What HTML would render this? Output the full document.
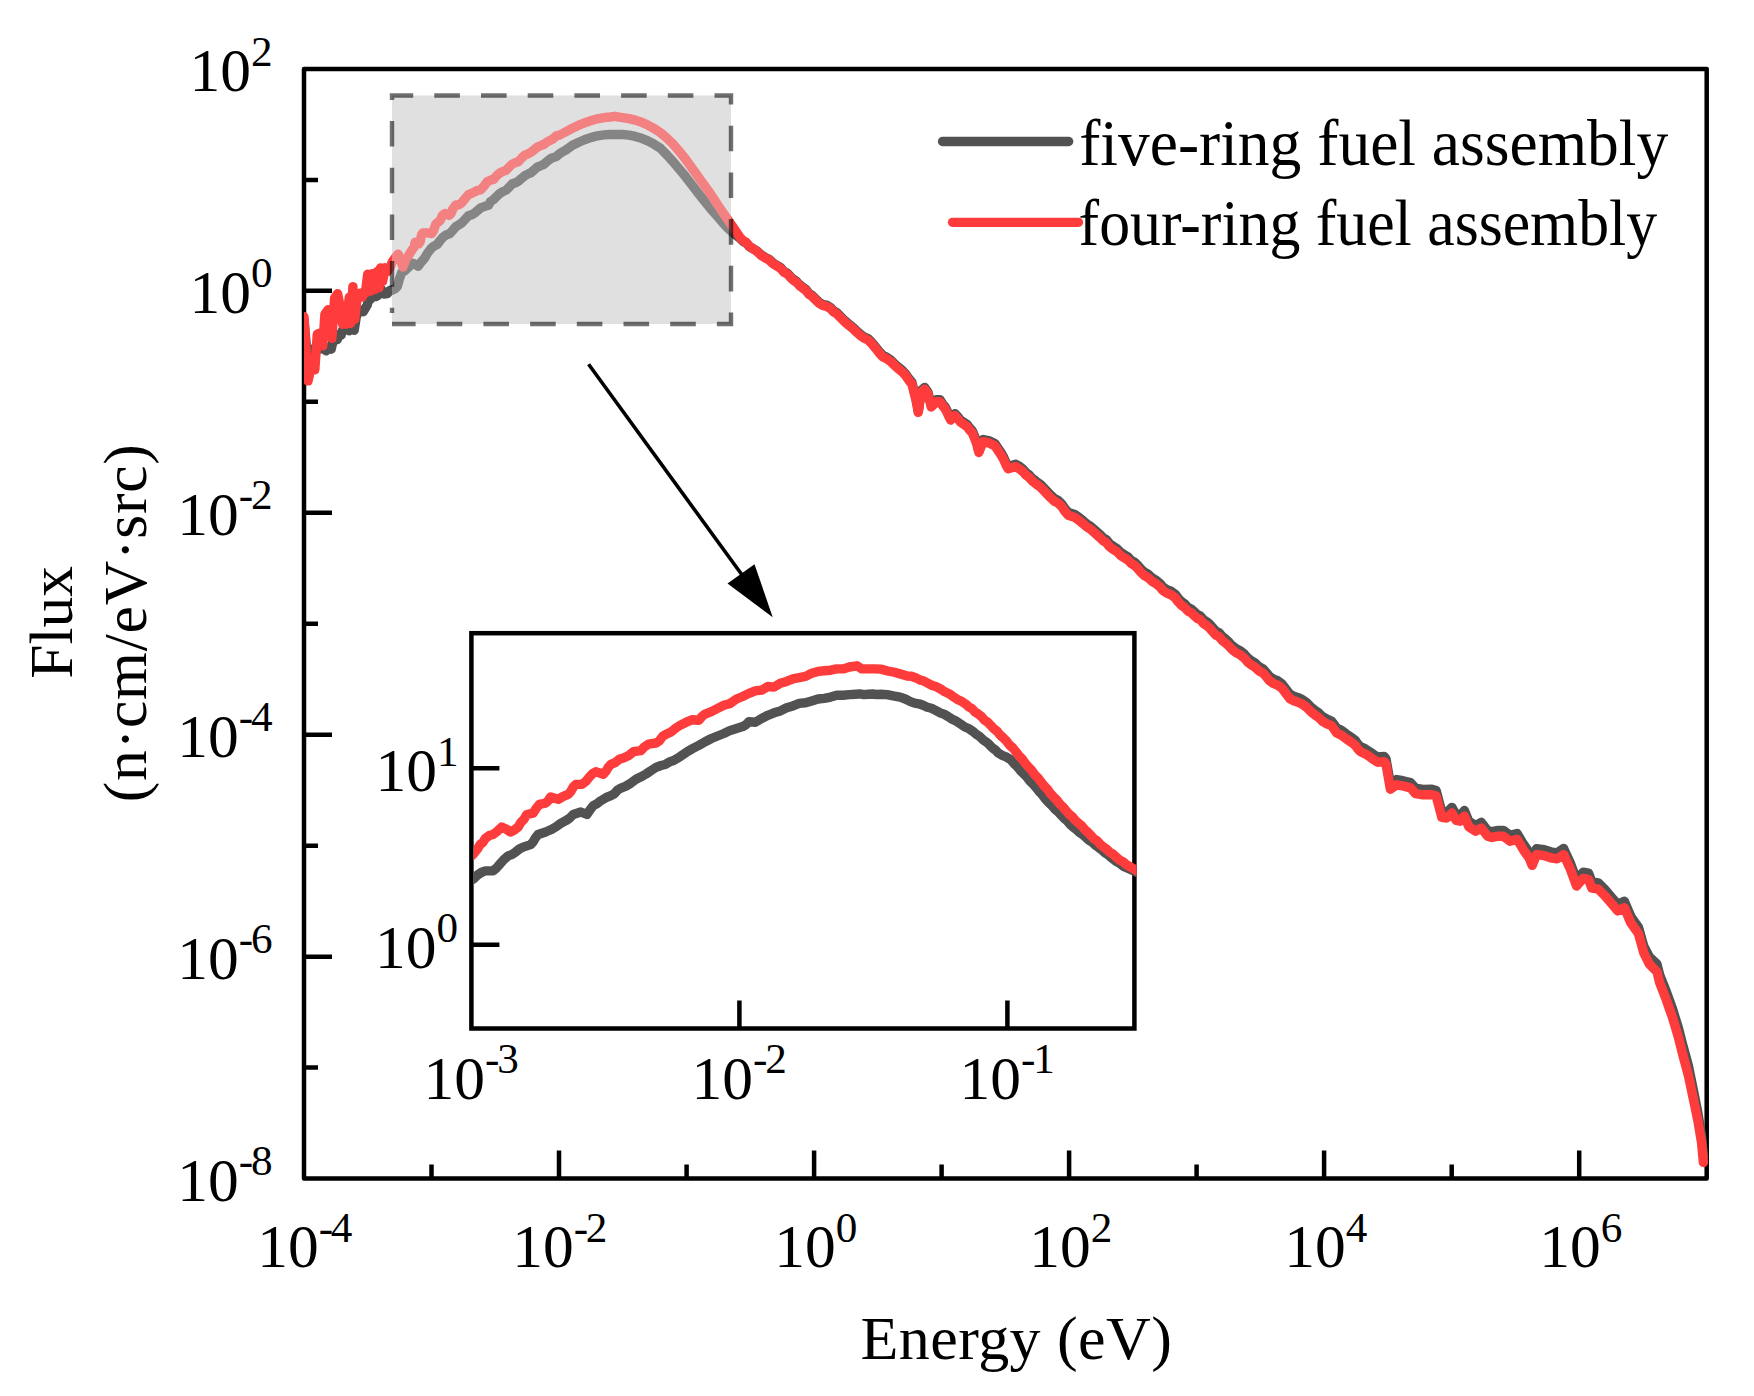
<!DOCTYPE html>
<html lang="en"><head><meta charset="utf-8"><title>Neutron flux spectrum</title>
<style>html,body{margin:0;padding:0;background:#fff}svg{display:block}</style></head>
<body>
<svg width="1754" height="1396" viewBox="0 0 1754 1396" font-family="'Liberation Serif', serif" fill="#000">
<rect width="1754" height="1396" fill="#fff"/>
<defs>
<clipPath id="cm"><rect x="304.0" y="68.9" width="1405.0" height="1109.6999999999998"/></clipPath>
<clipPath id="ci"><rect x="473.59999999999997" y="633.2" width="663.1000000000001" height="395.29999999999995"/></clipPath>
<clipPath id="cin"><rect x="392" y="95.5" width="339" height="228.5"/></clipPath>
<clipPath id="cout"><path clip-rule="evenodd" d="M0,0 H1754 V1396 H0 Z M392,95.5 H731 V324 H392 Z"/></clipPath>
</defs>
<g stroke="#000" stroke-width="4.5" fill="none">
<rect x="304.0" y="68.9" width="1402.7" height="1109.7" stroke-linejoin="round"/>
<path d="M431.5,1178.6 V1164.6 M559.0,1178.6 V1150.6 M686.6,1178.6 V1164.6 M814.1,1178.6 V1150.6 M941.6,1178.6 V1164.6 M1069.1,1178.6 V1150.6 M1196.6,1178.6 V1164.6 M1324.1,1178.6 V1150.6 M1451.7,1178.6 V1164.6 M1579.2,1178.6 V1150.6 M304.0,179.9 H318.0 M304.0,290.8 H332.0 M304.0,401.8 H318.0 M304.0,512.8 H332.0 M304.0,623.7 H318.0 M304.0,734.7 H332.0 M304.0,845.7 H318.0 M304.0,956.7 H332.0 M304.0,1067.6 H318.0"/>
</g>
<rect x="392.0" y="95.5" width="339.0" height="228.5" fill="#e0e0e0"/>
<g clip-path="url(#cm)" fill="none" stroke-width="9.4" stroke-linejoin="round" stroke-linecap="round">
<g clip-path="url(#cout)"><path d="M304.0,320.2 L309.0,375.3 L311.5,350.3 L317.1,346.3 L321.1,348.8 L323.6,346.3 L326.1,350.8 L329.1,347.3 L331.1,349.3 L333.1,341.2 L335.1,338.2 L337.1,339.7 L339.6,334.2 L341.1,335.2 L342.6,330.2 L346.1,328.7 L349.1,330.7 L352.1,329.2 L354.2,330.2 L356.2,317.2 L358.2,311.2 L360.7,310.2 L363.2,311.7 L367.2,305.1 L368.2,301.1 L370.7,299.1 L373.2,296.1 L375.7,296.6 L378.2,295.1 L381.2,289.1 L384.2,294.1 L387.2,293.6 L390.2,290.1 L392.2,290.3 L395.4,288.4 L397.3,286.5 L399.4,279.0 L401.6,272.7 L405.4,270.2 L408.6,267.1 L412.3,263.3 L415.1,264.3 L418.2,266.2 L421.4,261.8 L424.5,258.3 L427.6,253.0 L430.8,248.8 L433.9,246.1 L437.1,244.5 L440.2,240.5 L443.3,236.9 L446.5,234.8 L449.6,233.8 L452.7,230.4 L455.9,226.6 L459.0,224.8 L462.1,222.6 L465.3,219.1 L468.4,215.8 L471.6,214.7 L474.7,213.1 L477.8,210.3 L481.0,207.6 L484.1,206.6 L488.5,205.3 L490.4,201.6 L493.5,199.6 L496.6,196.5 L499.8,193.4 L502.9,191.5 L506.1,190.2 L509.2,187.1 L512.3,183.8 L515.5,182.7 L518.6,181.1 L521.7,178.3 L524.9,175.7 L528.0,174.0 L531.2,172.6 L534.3,169.8 L537.4,167.0 L540.6,165.8 L543.7,164.4 L546.8,161.7 L550.0,159.1 L553.1,157.6 L556.2,156.6 L559.4,153.9 L562.5,151.8 L565.7,150.1 L572.5,145.2 L578.8,142.2 L585.1,139.5 L591.4,137.4 L597.6,135.8 L603.9,134.9 L610.2,134.5 L616.5,134.4 L622.7,134.5 L629.0,135.2 L635.3,136.4 L641.6,138.3 L647.8,140.8 L654.1,144.2 L660.4,148.3 L666.6,154.6 L672.9,161.5 L679.2,169.0 L685.5,176.6 L691.7,184.7 L698.0,192.9 L704.3,200.8 L710.6,208.6 L716.8,215.8 L723.1,223.0 L727.5,227.7 L731.9,231.8 L740.0,238.4 L743.1,241.4 L746.2,242.9 L749.4,246.6 L752.5,248.4 L756.7,250.8 L760.9,254.6 L765.1,257.3 L769.3,259.5 L773.4,263.2 L777.6,265.7 L780.8,267.8 L783.9,271.5 L787.1,273.0 L790.2,276.3 L793.3,279.3 L796.5,281.3 L799.6,284.8 L802.7,287.2 L805.9,289.4 L809.0,293.5 L812.1,295.5 L815.3,298.6 L819.0,302.2 L822.8,304.5 L826.5,305.2 L830.3,307.3 L833.7,310.9 L837.0,312.8 L840.4,316.3 L844.8,320.7 L849.2,324.4 L853.0,327.4 L856.7,331.0 L860.5,334.3 L864.2,337.0 L868.0,338.6 L871.8,342.4 L875.5,346.8 L879.2,351.5 L883.0,355.5 L886.8,357.3 L890.6,359.9 L894.4,363.7 L898.1,367.0 L901.9,370.0 L905.6,373.9 L908.8,378.6 L911.9,382.3 L916.1,398.8 L916.8,403.0 L917.5,406.3 L918.2,410.7 L918.9,407.0 L919.5,402.1 L920.2,398.6 L920.8,393.8 L921.5,390.1 L924.7,387.5 L928.0,392.2 L929.1,397.0 L930.1,400.5 L931.2,405.2 L936.6,399.7 L939.9,399.7 L942.6,403.8 L945.3,407.2 L947.1,410.6 L948.9,414.6 L950.7,418.0 L955.1,413.7 L957.8,416.6 L960.5,420.1 L967.0,424.4 L969.7,428.0 L972.4,430.9 L974.5,436.1 L976.7,441.7 L977.8,446.4 L978.9,450.3 L981.0,444.6 L983.2,439.5 L988.6,440.5 L995.1,443.7 L998.4,448.8 L1001.6,453.4 L1003.8,457.5 L1006.0,462.6 L1008.1,466.4 L1015.7,464.2 L1019.5,466.4 L1023.3,469.5 L1026.2,472.8 L1029.1,474.9 L1032.0,478.1 L1036.3,481.5 L1040.6,484.6 L1050.8,495.2 L1054.4,498.5 L1058.1,500.4 L1061.7,503.8 L1064.9,508.6 L1068.2,512.4 L1074.7,514.5 L1079.0,517.4 L1083.3,520.9 L1086.9,524.1 L1090.5,526.2 L1094.2,529.5 L1100.0,534.5 L1103.1,537.7 L1106.2,539.5 L1109.4,543.5 L1112.5,545.8 L1116.7,548.4 L1120.9,552.5 L1125.1,555.2 L1128.2,557.1 L1131.3,560.4 L1134.5,562.1 L1137.6,565.1 L1140.8,568.8 L1143.9,571.9 L1148.1,574.2 L1152.3,578.0 L1156.5,580.6 L1159.6,583.1 L1162.7,586.8 L1166.9,589.6 L1171.1,591.2 L1175.3,594.3 L1178.4,598.4 L1181.6,601.7 L1184.7,603.8 L1187.8,607.3 L1191.0,608.9 L1194.1,611.6 L1197.2,614.4 L1200.3,616.0 L1203.5,619.6 L1206.6,621.6 L1209.8,624.4 L1212.9,627.9 L1216.1,631.4 L1219.2,632.8 L1222.3,636.5 L1225.5,639.0 L1228.6,641.7 L1231.7,645.3 L1235.9,648.5 L1240.1,650.6 L1244.3,654.0 L1247.4,657.6 L1250.6,660.2 L1254.8,662.8 L1258.9,666.6 L1263.1,668.9 L1266.2,672.3 L1269.4,676.4 L1273.6,679.2 L1277.7,680.7 L1281.9,683.8 L1290.0,694.3 L1293.8,696.2 L1297.5,697.4 L1301.9,699.4 L1306.3,702.4 L1310.7,706.9 L1315.1,710.5 L1318.9,713.0 L1322.6,716.7 L1327.0,719.2 L1331.4,721.0 L1333.9,724.1 L1336.4,727.9 L1341.4,730.3 L1346.5,734.1 L1350.2,736.6 L1355.2,740.3 L1357.8,743.9 L1360.3,746.5 L1365.3,748.8 L1370.3,752.1 L1374.1,754.9 L1377.8,757.0 L1384.1,756.4 L1386.0,758.9 L1390.4,783.9 L1396.6,779.5 L1402.9,780.7 L1410.5,782.6 L1415.5,788.2 L1423.0,789.4 L1431.8,789.3 L1436.2,790.6 L1441.8,811.9 L1446.8,812.5 L1451.9,807.4 L1456.2,814.9 L1460.0,815.6 L1464.4,810.5 L1468.8,821.2 L1475.7,825.5 L1481.3,822.3 L1487.6,830.5 L1492.0,831.7 L1498.3,830.4 L1503.3,830.4 L1510.1,835.4 L1517.1,833.5 L1523.6,844.3 L1529.0,851.9 L1532.2,859.4 L1536.6,848.6 L1544.1,849.6 L1550.6,851.8 L1557.1,852.8 L1563.6,848.4 L1570.1,862.5 L1576.6,879.8 L1583.1,872.2 L1588.6,873.2 L1591.8,881.9 L1598.3,882.9 L1604.8,889.4 L1611.3,897.0 L1617.8,904.5 L1624.3,901.2 L1630.8,916.4 L1638.4,927.1 L1643.8,946.2 L1649.4,957.0 L1656.9,964.0 L1659.7,974.9 L1666.2,991.3 L1672.7,1009.4 L1678.3,1027.7 L1683.0,1046.0 L1688.5,1066.1 L1693.2,1089.2 L1697.9,1113.0 L1701.6,1136.4 L1703.4,1156.3" stroke="#525252"/>
<path d="M304.0,316.7 L308.0,380.9 L312.0,362.3 L314.8,369.8 L317.3,334.2 L321.3,332.7 L322.8,345.8 L324.9,314.2 L328.1,309.7 L330.3,316.2 L331.9,338.2 L334.6,298.1 L337.6,293.6 L340.1,306.2 L342.6,324.2 L344.4,315.2 L346.1,324.2 L349.3,297.1 L350.5,323.2 L352.9,286.6 L354.7,319.2 L357.4,295.1 L360.2,293.1 L362.2,297.1 L364.2,291.6 L365.4,293.1 L367.7,274.1 L370.0,291.1 L372.2,273.6 L374.7,289.6 L377.2,271.6 L379.0,287.6 L380.4,268.0 L382.7,281.1 L385.0,267.8 L387.2,271.6 L390.2,267.5 L392.2,262.0 L395.4,257.6 L398.1,254.1 L401.0,261.4 L402.9,267.1 L405.4,260.2 L408.2,256.0 L411.1,251.4 L414.2,247.0 L415.1,242.3 L418.9,243.6 L420.2,241.6 L421.5,234.8 L422.9,232.9 L427.6,232.9 L431.4,233.6 L433.6,230.6 L435.8,224.1 L440.2,220.4 L442.7,215.0 L445.2,213.5 L449.0,215.4 L450.9,213.9 L452.7,209.1 L455.9,205.0 L459.0,204.7 L462.1,202.4 L465.3,198.4 L468.4,194.6 L471.6,193.4 L477.8,190.3 L481.0,189.6 L484.1,185.9 L487.2,181.8 L490.4,180.2 L493.5,179.5 L496.6,175.8 L499.8,172.9 L502.9,171.4 L506.1,170.3 L509.2,167.1 L512.3,164.0 L515.5,162.7 L518.6,161.5 L521.7,158.0 L524.9,155.1 L528.0,153.9 L531.2,152.2 L534.3,149.6 L537.4,147.1 L540.6,145.7 L543.7,144.5 L546.8,142.1 L553.1,138.8 L556.2,135.9 L559.4,135.1 L565.7,131.9 L572.5,128.2 L578.8,125.2 L585.1,122.6 L591.4,120.5 L597.6,118.8 L603.9,117.7 L610.2,117.0 L615.2,116.3 L619.0,117.1 L622.7,117.6 L629.0,118.6 L635.3,120.1 L641.6,122.2 L647.8,125.1 L654.1,128.5 L660.4,132.6 L666.6,137.9 L672.9,143.9 L679.2,151.2 L685.5,159.0 L691.7,167.8 L698.0,176.6 L704.3,185.3 L710.6,194.1 L716.8,203.5 L723.1,212.9 L727.5,219.2 L731.9,225.5 L740.0,237.4 L743.1,240.6 L746.2,242.4 L749.4,246.3 L752.5,248.4 L756.7,251.1 L760.9,255.2 L765.1,257.9 L769.3,260.2 L773.4,263.9 L777.6,266.4 L780.8,268.6 L783.9,272.3 L787.1,273.8 L790.2,277.1 L793.3,280.2 L796.5,282.2 L799.6,285.7 L802.7,288.1 L805.9,290.4 L809.0,294.4 L812.1,296.4 L815.3,299.6 L819.0,303.2 L822.8,305.5 L826.5,306.3 L830.3,308.4 L833.7,312.0 L837.0,313.9 L840.4,317.5 L844.8,321.9 L849.2,325.6 L853.0,328.7 L856.7,332.3 L860.5,335.6 L864.2,338.3 L868.0,340.0 L871.8,343.8 L875.5,348.2 L879.2,353.0 L883.0,357.0 L886.8,358.8 L890.6,361.4 L894.4,365.3 L898.1,368.6 L901.9,371.6 L905.6,375.5 L908.8,380.2 L911.9,384.0 L916.1,400.5 L916.8,404.7 L917.5,408.0 L918.2,412.4 L918.9,408.7 L919.5,403.8 L920.2,400.3 L920.8,395.5 L921.5,391.8 L924.7,389.2 L928.0,394.0 L929.1,398.8 L930.1,402.3 L931.2,407.0 L936.6,401.6 L939.9,401.6 L942.6,405.7 L945.3,409.2 L947.1,412.5 L948.9,416.6 L950.7,420.0 L955.1,415.7 L957.8,418.6 L960.5,422.2 L967.0,426.5 L969.7,430.1 L972.4,433.0 L974.5,438.2 L976.7,443.8 L977.8,448.6 L978.9,452.5 L981.0,446.8 L983.2,441.7 L988.6,442.8 L995.1,446.0 L998.4,451.1 L1001.6,455.7 L1003.8,459.9 L1006.0,464.9 L1008.1,468.7 L1015.7,466.6 L1019.5,468.9 L1023.3,472.0 L1026.2,475.3 L1029.1,477.4 L1032.0,480.7 L1036.3,484.1 L1040.6,487.2 L1050.8,497.9 L1054.4,501.2 L1058.1,503.1 L1061.7,506.5 L1064.9,511.4 L1068.2,515.2 L1074.7,517.4 L1079.0,520.3 L1083.3,523.9 L1086.9,527.0 L1090.5,529.2 L1094.2,532.5 L1100.0,537.6 L1103.1,540.8 L1106.2,542.6 L1109.4,546.6 L1112.5,548.9 L1116.7,551.5 L1120.9,555.7 L1125.1,558.4 L1128.2,560.3 L1131.3,563.7 L1134.5,565.4 L1137.6,568.4 L1140.8,572.2 L1143.9,575.3 L1148.1,577.6 L1152.3,581.5 L1156.5,584.1 L1159.6,586.6 L1162.7,590.3 L1166.9,593.1 L1171.1,594.8 L1175.3,597.9 L1178.4,602.1 L1181.6,605.4 L1184.7,607.5 L1187.8,611.0 L1191.0,612.6 L1194.1,615.4 L1197.2,618.2 L1200.3,619.8 L1203.5,623.5 L1206.6,625.5 L1209.8,628.3 L1212.9,631.8 L1216.1,635.3 L1219.2,636.7 L1222.3,640.5 L1225.5,643.0 L1228.6,645.7 L1231.7,649.3 L1235.9,652.6 L1240.1,654.8 L1244.3,658.1 L1247.4,661.8 L1250.6,664.4 L1254.8,667.0 L1258.9,670.8 L1263.1,673.2 L1266.2,676.6 L1269.4,680.7 L1273.6,683.6 L1277.7,685.1 L1281.9,688.2 L1290.0,698.8 L1293.8,700.7 L1297.5,702.0 L1301.9,704.0 L1306.3,707.0 L1310.7,711.5 L1315.1,715.1 L1318.9,717.7 L1322.6,721.4 L1327.0,723.9 L1331.4,725.8 L1333.9,728.9 L1336.4,732.7 L1341.4,735.2 L1346.5,739.0 L1350.2,741.5 L1355.2,745.2 L1357.8,748.9 L1360.3,751.5 L1365.3,753.9 L1370.3,757.2 L1374.1,760.0 L1377.8,762.2 L1384.1,761.6 L1386.0,764.1 L1390.4,789.2 L1396.6,784.8 L1402.9,786.0 L1410.5,787.9 L1415.5,793.6 L1423.0,794.8 L1431.8,794.8 L1436.2,796.1 L1441.8,817.4 L1446.8,818.0 L1451.9,813.0 L1456.2,820.5 L1460.0,821.2 L1464.4,816.1 L1468.8,826.8 L1475.7,831.2 L1481.3,828.1 L1487.6,836.2 L1492.0,837.5 L1498.3,836.2 L1503.3,836.2 L1510.1,841.2 L1517.1,839.4 L1523.6,850.2 L1529.0,857.8 L1532.2,865.4 L1536.6,854.6 L1544.1,855.6 L1550.6,857.8 L1557.1,858.9 L1563.6,854.6 L1570.1,868.6 L1576.6,886.0 L1583.1,878.4 L1588.6,879.5 L1591.8,888.1 L1598.3,889.2 L1604.8,895.7 L1611.3,903.3 L1617.8,910.9 L1624.3,907.6 L1630.8,922.8 L1638.4,933.6 L1643.8,953.0 L1649.4,964.2 L1656.9,971.7 L1659.7,982.8 L1666.2,999.6 L1672.7,1018.2 L1678.3,1036.9 L1683.0,1055.5 L1688.5,1076.0 L1693.2,1098.3 L1697.9,1120.7 L1701.6,1143.1 L1703.4,1162.5" stroke="#ff3c3c"/></g>
<g clip-path="url(#cin)"><path d="M304.0,320.2 L309.0,375.3 L311.5,350.3 L317.1,346.3 L321.1,348.8 L323.6,346.3 L326.1,350.8 L329.1,347.3 L331.1,349.3 L333.1,341.2 L335.1,338.2 L337.1,339.7 L339.6,334.2 L341.1,335.2 L342.6,330.2 L346.1,328.7 L349.1,330.7 L352.1,329.2 L354.2,330.2 L356.2,317.2 L358.2,311.2 L360.7,310.2 L363.2,311.7 L367.2,305.1 L368.2,301.1 L370.7,299.1 L373.2,296.1 L375.7,296.6 L378.2,295.1 L381.2,289.1 L384.2,294.1 L387.2,293.6 L390.2,290.1 L392.2,290.3 L395.4,288.4 L397.3,286.5 L399.4,279.0 L401.6,272.7 L405.4,270.2 L408.6,267.1 L412.3,263.3 L415.1,264.3 L418.2,266.2 L421.4,261.8 L424.5,258.3 L427.6,253.0 L430.8,248.8 L433.9,246.1 L437.1,244.5 L440.2,240.5 L443.3,236.9 L446.5,234.8 L449.6,233.8 L452.7,230.4 L455.9,226.6 L459.0,224.8 L462.1,222.6 L465.3,219.1 L468.4,215.8 L471.6,214.7 L474.7,213.1 L477.8,210.3 L481.0,207.6 L484.1,206.6 L488.5,205.3 L490.4,201.6 L493.5,199.6 L496.6,196.5 L499.8,193.4 L502.9,191.5 L506.1,190.2 L509.2,187.1 L512.3,183.8 L515.5,182.7 L518.6,181.1 L521.7,178.3 L524.9,175.7 L528.0,174.0 L531.2,172.6 L534.3,169.8 L537.4,167.0 L540.6,165.8 L543.7,164.4 L546.8,161.7 L550.0,159.1 L553.1,157.6 L556.2,156.6 L559.4,153.9 L562.5,151.8 L565.7,150.1 L572.5,145.2 L578.8,142.2 L585.1,139.5 L591.4,137.4 L597.6,135.8 L603.9,134.9 L610.2,134.5 L616.5,134.4 L622.7,134.5 L629.0,135.2 L635.3,136.4 L641.6,138.3 L647.8,140.8 L654.1,144.2 L660.4,148.3 L666.6,154.6 L672.9,161.5 L679.2,169.0 L685.5,176.6 L691.7,184.7 L698.0,192.9 L704.3,200.8 L710.6,208.6 L716.8,215.8 L723.1,223.0 L727.5,227.7 L731.9,231.8 L740.0,238.4 L743.1,241.4 L746.2,242.9 L749.4,246.6 L752.5,248.4 L756.7,250.8 L760.9,254.6 L765.1,257.3 L769.3,259.5 L773.4,263.2 L777.6,265.7 L780.8,267.8 L783.9,271.5 L787.1,273.0 L790.2,276.3 L793.3,279.3 L796.5,281.3 L799.6,284.8 L802.7,287.2 L805.9,289.4 L809.0,293.5 L812.1,295.5 L815.3,298.6 L819.0,302.2 L822.8,304.5 L826.5,305.2 L830.3,307.3 L833.7,310.9 L837.0,312.8 L840.4,316.3 L844.8,320.7 L849.2,324.4 L853.0,327.4 L856.7,331.0 L860.5,334.3 L864.2,337.0 L868.0,338.6 L871.8,342.4 L875.5,346.8 L879.2,351.5 L883.0,355.5 L886.8,357.3 L890.6,359.9 L894.4,363.7 L898.1,367.0 L901.9,370.0 L905.6,373.9 L908.8,378.6 L911.9,382.3 L916.1,398.8 L916.8,403.0 L917.5,406.3 L918.2,410.7 L918.9,407.0 L919.5,402.1 L920.2,398.6 L920.8,393.8 L921.5,390.1 L924.7,387.5 L928.0,392.2 L929.1,397.0 L930.1,400.5 L931.2,405.2 L936.6,399.7 L939.9,399.7 L942.6,403.8 L945.3,407.2 L947.1,410.6 L948.9,414.6 L950.7,418.0 L955.1,413.7 L957.8,416.6 L960.5,420.1 L967.0,424.4 L969.7,428.0 L972.4,430.9 L974.5,436.1 L976.7,441.7 L977.8,446.4 L978.9,450.3 L981.0,444.6 L983.2,439.5 L988.6,440.5 L995.1,443.7 L998.4,448.8 L1001.6,453.4 L1003.8,457.5 L1006.0,462.6 L1008.1,466.4 L1015.7,464.2 L1019.5,466.4 L1023.3,469.5 L1026.2,472.8 L1029.1,474.9 L1032.0,478.1 L1036.3,481.5 L1040.6,484.6 L1050.8,495.2 L1054.4,498.5 L1058.1,500.4 L1061.7,503.8 L1064.9,508.6 L1068.2,512.4 L1074.7,514.5 L1079.0,517.4 L1083.3,520.9 L1086.9,524.1 L1090.5,526.2 L1094.2,529.5 L1100.0,534.5 L1103.1,537.7 L1106.2,539.5 L1109.4,543.5 L1112.5,545.8 L1116.7,548.4 L1120.9,552.5 L1125.1,555.2 L1128.2,557.1 L1131.3,560.4 L1134.5,562.1 L1137.6,565.1 L1140.8,568.8 L1143.9,571.9 L1148.1,574.2 L1152.3,578.0 L1156.5,580.6 L1159.6,583.1 L1162.7,586.8 L1166.9,589.6 L1171.1,591.2 L1175.3,594.3 L1178.4,598.4 L1181.6,601.7 L1184.7,603.8 L1187.8,607.3 L1191.0,608.9 L1194.1,611.6 L1197.2,614.4 L1200.3,616.0 L1203.5,619.6 L1206.6,621.6 L1209.8,624.4 L1212.9,627.9 L1216.1,631.4 L1219.2,632.8 L1222.3,636.5 L1225.5,639.0 L1228.6,641.7 L1231.7,645.3 L1235.9,648.5 L1240.1,650.6 L1244.3,654.0 L1247.4,657.6 L1250.6,660.2 L1254.8,662.8 L1258.9,666.6 L1263.1,668.9 L1266.2,672.3 L1269.4,676.4 L1273.6,679.2 L1277.7,680.7 L1281.9,683.8 L1290.0,694.3 L1293.8,696.2 L1297.5,697.4 L1301.9,699.4 L1306.3,702.4 L1310.7,706.9 L1315.1,710.5 L1318.9,713.0 L1322.6,716.7 L1327.0,719.2 L1331.4,721.0 L1333.9,724.1 L1336.4,727.9 L1341.4,730.3 L1346.5,734.1 L1350.2,736.6 L1355.2,740.3 L1357.8,743.9 L1360.3,746.5 L1365.3,748.8 L1370.3,752.1 L1374.1,754.9 L1377.8,757.0 L1384.1,756.4 L1386.0,758.9 L1390.4,783.9 L1396.6,779.5 L1402.9,780.7 L1410.5,782.6 L1415.5,788.2 L1423.0,789.4 L1431.8,789.3 L1436.2,790.6 L1441.8,811.9 L1446.8,812.5 L1451.9,807.4 L1456.2,814.9 L1460.0,815.6 L1464.4,810.5 L1468.8,821.2 L1475.7,825.5 L1481.3,822.3 L1487.6,830.5 L1492.0,831.7 L1498.3,830.4 L1503.3,830.4 L1510.1,835.4 L1517.1,833.5 L1523.6,844.3 L1529.0,851.9 L1532.2,859.4 L1536.6,848.6 L1544.1,849.6 L1550.6,851.8 L1557.1,852.8 L1563.6,848.4 L1570.1,862.5 L1576.6,879.8 L1583.1,872.2 L1588.6,873.2 L1591.8,881.9 L1598.3,882.9 L1604.8,889.4 L1611.3,897.0 L1617.8,904.5 L1624.3,901.2 L1630.8,916.4 L1638.4,927.1 L1643.8,946.2 L1649.4,957.0 L1656.9,964.0 L1659.7,974.9 L1666.2,991.3 L1672.7,1009.4 L1678.3,1027.7 L1683.0,1046.0 L1688.5,1066.1 L1693.2,1089.2 L1697.9,1113.0 L1701.6,1136.4 L1703.4,1156.3" stroke="#858585"/>
<path d="M304.0,316.7 L308.0,380.9 L312.0,362.3 L314.8,369.8 L317.3,334.2 L321.3,332.7 L322.8,345.8 L324.9,314.2 L328.1,309.7 L330.3,316.2 L331.9,338.2 L334.6,298.1 L337.6,293.6 L340.1,306.2 L342.6,324.2 L344.4,315.2 L346.1,324.2 L349.3,297.1 L350.5,323.2 L352.9,286.6 L354.7,319.2 L357.4,295.1 L360.2,293.1 L362.2,297.1 L364.2,291.6 L365.4,293.1 L367.7,274.1 L370.0,291.1 L372.2,273.6 L374.7,289.6 L377.2,271.6 L379.0,287.6 L380.4,268.0 L382.7,281.1 L385.0,267.8 L387.2,271.6 L390.2,267.5 L392.2,262.0 L395.4,257.6 L398.1,254.1 L401.0,261.4 L402.9,267.1 L405.4,260.2 L408.2,256.0 L411.1,251.4 L414.2,247.0 L415.1,242.3 L418.9,243.6 L420.2,241.6 L421.5,234.8 L422.9,232.9 L427.6,232.9 L431.4,233.6 L433.6,230.6 L435.8,224.1 L440.2,220.4 L442.7,215.0 L445.2,213.5 L449.0,215.4 L450.9,213.9 L452.7,209.1 L455.9,205.0 L459.0,204.7 L462.1,202.4 L465.3,198.4 L468.4,194.6 L471.6,193.4 L477.8,190.3 L481.0,189.6 L484.1,185.9 L487.2,181.8 L490.4,180.2 L493.5,179.5 L496.6,175.8 L499.8,172.9 L502.9,171.4 L506.1,170.3 L509.2,167.1 L512.3,164.0 L515.5,162.7 L518.6,161.5 L521.7,158.0 L524.9,155.1 L528.0,153.9 L531.2,152.2 L534.3,149.6 L537.4,147.1 L540.6,145.7 L543.7,144.5 L546.8,142.1 L553.1,138.8 L556.2,135.9 L559.4,135.1 L565.7,131.9 L572.5,128.2 L578.8,125.2 L585.1,122.6 L591.4,120.5 L597.6,118.8 L603.9,117.7 L610.2,117.0 L615.2,116.3 L619.0,117.1 L622.7,117.6 L629.0,118.6 L635.3,120.1 L641.6,122.2 L647.8,125.1 L654.1,128.5 L660.4,132.6 L666.6,137.9 L672.9,143.9 L679.2,151.2 L685.5,159.0 L691.7,167.8 L698.0,176.6 L704.3,185.3 L710.6,194.1 L716.8,203.5 L723.1,212.9 L727.5,219.2 L731.9,225.5 L740.0,237.4 L743.1,240.6 L746.2,242.4 L749.4,246.3 L752.5,248.4 L756.7,251.1 L760.9,255.2 L765.1,257.9 L769.3,260.2 L773.4,263.9 L777.6,266.4 L780.8,268.6 L783.9,272.3 L787.1,273.8 L790.2,277.1 L793.3,280.2 L796.5,282.2 L799.6,285.7 L802.7,288.1 L805.9,290.4 L809.0,294.4 L812.1,296.4 L815.3,299.6 L819.0,303.2 L822.8,305.5 L826.5,306.3 L830.3,308.4 L833.7,312.0 L837.0,313.9 L840.4,317.5 L844.8,321.9 L849.2,325.6 L853.0,328.7 L856.7,332.3 L860.5,335.6 L864.2,338.3 L868.0,340.0 L871.8,343.8 L875.5,348.2 L879.2,353.0 L883.0,357.0 L886.8,358.8 L890.6,361.4 L894.4,365.3 L898.1,368.6 L901.9,371.6 L905.6,375.5 L908.8,380.2 L911.9,384.0 L916.1,400.5 L916.8,404.7 L917.5,408.0 L918.2,412.4 L918.9,408.7 L919.5,403.8 L920.2,400.3 L920.8,395.5 L921.5,391.8 L924.7,389.2 L928.0,394.0 L929.1,398.8 L930.1,402.3 L931.2,407.0 L936.6,401.6 L939.9,401.6 L942.6,405.7 L945.3,409.2 L947.1,412.5 L948.9,416.6 L950.7,420.0 L955.1,415.7 L957.8,418.6 L960.5,422.2 L967.0,426.5 L969.7,430.1 L972.4,433.0 L974.5,438.2 L976.7,443.8 L977.8,448.6 L978.9,452.5 L981.0,446.8 L983.2,441.7 L988.6,442.8 L995.1,446.0 L998.4,451.1 L1001.6,455.7 L1003.8,459.9 L1006.0,464.9 L1008.1,468.7 L1015.7,466.6 L1019.5,468.9 L1023.3,472.0 L1026.2,475.3 L1029.1,477.4 L1032.0,480.7 L1036.3,484.1 L1040.6,487.2 L1050.8,497.9 L1054.4,501.2 L1058.1,503.1 L1061.7,506.5 L1064.9,511.4 L1068.2,515.2 L1074.7,517.4 L1079.0,520.3 L1083.3,523.9 L1086.9,527.0 L1090.5,529.2 L1094.2,532.5 L1100.0,537.6 L1103.1,540.8 L1106.2,542.6 L1109.4,546.6 L1112.5,548.9 L1116.7,551.5 L1120.9,555.7 L1125.1,558.4 L1128.2,560.3 L1131.3,563.7 L1134.5,565.4 L1137.6,568.4 L1140.8,572.2 L1143.9,575.3 L1148.1,577.6 L1152.3,581.5 L1156.5,584.1 L1159.6,586.6 L1162.7,590.3 L1166.9,593.1 L1171.1,594.8 L1175.3,597.9 L1178.4,602.1 L1181.6,605.4 L1184.7,607.5 L1187.8,611.0 L1191.0,612.6 L1194.1,615.4 L1197.2,618.2 L1200.3,619.8 L1203.5,623.5 L1206.6,625.5 L1209.8,628.3 L1212.9,631.8 L1216.1,635.3 L1219.2,636.7 L1222.3,640.5 L1225.5,643.0 L1228.6,645.7 L1231.7,649.3 L1235.9,652.6 L1240.1,654.8 L1244.3,658.1 L1247.4,661.8 L1250.6,664.4 L1254.8,667.0 L1258.9,670.8 L1263.1,673.2 L1266.2,676.6 L1269.4,680.7 L1273.6,683.6 L1277.7,685.1 L1281.9,688.2 L1290.0,698.8 L1293.8,700.7 L1297.5,702.0 L1301.9,704.0 L1306.3,707.0 L1310.7,711.5 L1315.1,715.1 L1318.9,717.7 L1322.6,721.4 L1327.0,723.9 L1331.4,725.8 L1333.9,728.9 L1336.4,732.7 L1341.4,735.2 L1346.5,739.0 L1350.2,741.5 L1355.2,745.2 L1357.8,748.9 L1360.3,751.5 L1365.3,753.9 L1370.3,757.2 L1374.1,760.0 L1377.8,762.2 L1384.1,761.6 L1386.0,764.1 L1390.4,789.2 L1396.6,784.8 L1402.9,786.0 L1410.5,787.9 L1415.5,793.6 L1423.0,794.8 L1431.8,794.8 L1436.2,796.1 L1441.8,817.4 L1446.8,818.0 L1451.9,813.0 L1456.2,820.5 L1460.0,821.2 L1464.4,816.1 L1468.8,826.8 L1475.7,831.2 L1481.3,828.1 L1487.6,836.2 L1492.0,837.5 L1498.3,836.2 L1503.3,836.2 L1510.1,841.2 L1517.1,839.4 L1523.6,850.2 L1529.0,857.8 L1532.2,865.4 L1536.6,854.6 L1544.1,855.6 L1550.6,857.8 L1557.1,858.9 L1563.6,854.6 L1570.1,868.6 L1576.6,886.0 L1583.1,878.4 L1588.6,879.5 L1591.8,888.1 L1598.3,889.2 L1604.8,895.7 L1611.3,903.3 L1617.8,910.9 L1624.3,907.6 L1630.8,922.8 L1638.4,933.6 L1643.8,953.0 L1649.4,964.2 L1656.9,971.7 L1659.7,982.8 L1666.2,999.6 L1672.7,1018.2 L1678.3,1036.9 L1683.0,1055.5 L1688.5,1076.0 L1693.2,1098.3 L1697.9,1120.7 L1701.6,1143.1 L1703.4,1162.5" stroke="#f48181"/></g>
</g>
<path d="M392.0,324.0 H731.0 V95.5 H392.0 V313.0" fill="none" stroke="#000" stroke-opacity="0.56" stroke-width="4.4" stroke-dasharray="25.6 21.1" stroke-dashoffset="2"/>
<line x1="588.6" y1="364.3" x2="745" y2="579" stroke="#000" stroke-width="3.6" stroke-linecap="butt"/>
<polygon points="772.7,617.2 754.5,564.2 727.5,583.6" fill="#000"/>
<rect x="471.4" y="633.2" width="663.0" height="395.3" fill="#fff" stroke="none"/>
<g stroke="#000" stroke-width="4.5" fill="none">
<rect x="471.4" y="633.2" width="663.0" height="395.3"/>
<path d="M739.4,1028.5 V1000.5 M1007.4,1028.5 V1000.5 M471.4,768.2 H499.4 M471.4,944.7 H499.4"/>
</g>
<g clip-path="url(#ci)" fill="none" stroke-width="9.4" stroke-linejoin="round" stroke-linecap="butt">
<path d="M465.4,886.0 L470.4,880.9 L474.1,878.3 L477.9,874.7 L481.7,872.2 L485.4,870.9 L493.0,870.9 L496.7,867.8 L500.5,863.4 L504.3,859.2 L508.0,855.9 L511.8,854.6 L515.5,852.1 L519.3,849.0 L523.1,847.1 L530.6,844.6 L533.1,841.8 L535.6,837.6 L538.1,834.5 L545.6,832.0 L550.7,829.8 L555.7,827.0 L560.7,823.4 L565.7,820.7 L569.5,818.2 L573.2,814.5 L580.8,812.0 L587.0,814.5 L590.2,809.7 L593.3,805.7 L597.1,803.7 L600.8,800.7 L605.9,797.7 L610.9,795.6 L614.2,793.8 L617.6,790.0 L620.9,788.1 L625.9,786.1 L630.9,783.1 L636.0,779.3 L641.0,776.8 L646.0,774.0 L651.0,770.6 L656.0,767.4 L661.1,765.5 L665.2,764.5 L669.4,761.9 L673.6,760.5 L680.0,756.7 L686.3,752.3 L692.5,748.6 L698.8,745.4 L705.1,741.7 L711.4,738.5 L717.6,736.0 L723.9,733.5 L730.2,730.4 L736.5,728.5 L742.7,726.6 L745.9,724.7 L749.0,721.6 L755.3,722.2 L761.6,718.5 L767.8,715.3 L774.1,712.8 L780.4,710.9 L786.6,707.8 L792.9,705.9 L799.2,703.4 L805.5,702.8 L811.7,700.9 L818.0,699.0 L824.3,698.4 L830.6,697.1 L836.8,695.2 L843.1,695.2 L849.4,694.6 L855.7,694.2 L859.8,693.9 L864.0,694.6 L868.2,694.2 L872.4,694.0 L876.6,694.5 L880.8,694.2 L887.0,694.6 L893.3,695.9 L900.1,697.1 L905.3,699.0 L910.5,701.6 L914.7,703.1 L918.9,703.8 L923.1,705.3 L927.3,707.2 L931.4,708.3 L935.6,710.4 L939.8,712.7 L944.0,714.1 L948.2,716.6 L952.3,719.3 L956.5,721.3 L960.7,724.1 L964.9,727.0 L969.1,728.8 L973.2,731.7 L976.4,734.3 L979.5,736.4 L982.7,739.4 L985.8,741.7 L988.9,744.2 L992.1,747.6 L995.2,749.8 L998.3,753.0 L1002.5,755.5 L1006.7,757.2 L1010.9,759.8 L1014.0,763.6 L1017.2,766.5 L1020.3,770.4 L1023.4,773.6 L1026.6,776.6 L1029.7,780.8 L1032.8,783.7 L1036.0,787.4 L1039.1,791.4 L1042.2,794.6 L1045.4,798.9 L1048.5,802.4 L1051.6,805.3 L1054.8,809.0 L1057.9,811.5 L1061.1,815.0 L1064.2,818.3 L1067.3,820.9 L1070.5,824.8 L1073.6,827.5 L1076.7,829.8 L1079.9,832.8 L1083.0,834.7 L1086.1,837.6 L1089.3,840.4 L1092.4,842.3 L1095.5,845.2 L1098.7,847.6 L1101.8,849.8 L1105.0,852.8 L1108.1,854.8 L1111.2,857.6 L1115.4,860.8 L1119.6,863.2 L1123.8,866.4 L1135.1,871.4 L1143.8,875.9" stroke="#525252"/>
<path d="M465.4,863.4 L470.4,857.1 L474.1,853.2 L477.9,848.3 L480.4,844.3 L482.9,842.4 L485.4,838.3 L489.2,835.6 L493.0,834.5 L497.4,831.2 L501.7,827.0 L506.1,829.0 L510.5,832.0 L514.3,830.0 L518.1,827.0 L521.0,822.3 L523.9,819.4 L526.8,814.5 L533.1,813.2 L536.2,808.4 L539.4,804.4 L545.6,803.2 L548.2,800.7 L550.7,796.9 L558.2,799.4 L563.2,796.4 L568.2,794.4 L570.7,791.6 L573.2,787.1 L575.8,784.4 L582.0,784.4 L585.8,781.4 L589.6,776.8 L592.7,773.6 L595.8,771.8 L603.4,774.3 L605.9,771.3 L608.4,767.1 L610.9,764.3 L615.1,762.6 L619.2,759.3 L623.4,758.0 L628.4,755.7 L633.5,751.7 L641.0,750.5 L644.7,746.6 L648.5,744.2 L656.0,743.0 L659.4,740.8 L662.7,736.3 L666.1,734.2 L671.1,731.9 L676.1,727.9 L680.0,725.4 L686.3,722.2 L692.5,719.7 L698.8,720.3 L702.0,716.4 L705.1,714.1 L711.4,711.6 L717.6,708.4 L723.9,705.3 L730.2,703.4 L736.5,699.0 L742.7,696.5 L749.0,693.4 L755.3,690.9 L761.6,690.2 L767.8,686.5 L774.1,687.1 L780.4,683.3 L786.6,681.4 L792.9,678.9 L799.2,677.7 L805.5,676.4 L811.7,673.3 L818.0,671.4 L824.3,670.8 L830.6,670.2 L836.8,668.9 L843.1,668.9 L849.4,667.0 L856.9,665.8 L861.9,668.9 L868.2,668.9 L874.5,668.9 L880.8,669.1 L887.0,670.8 L893.3,672.0 L900.1,673.9 L903.0,674.7 L907.2,676.0 L911.4,676.3 L915.5,677.7 L919.7,679.9 L923.9,681.0 L928.1,683.3 L932.3,685.5 L936.5,686.8 L940.6,689.0 L944.8,691.8 L949.0,693.7 L953.2,696.6 L957.4,699.4 L961.5,701.3 L965.7,704.1 L968.9,707.0 L972.0,708.7 L975.1,712.1 L978.3,714.1 L981.4,716.5 L984.5,720.1 L987.7,722.2 L990.8,725.4 L993.9,728.8 L997.1,731.3 L1000.2,735.1 L1003.4,737.9 L1006.5,741.1 L1009.6,745.1 L1012.8,747.9 L1015.9,751.7 L1019.0,755.8 L1022.2,758.9 L1025.3,763.4 L1028.4,766.8 L1031.6,770.2 L1034.7,774.6 L1037.8,777.7 L1041.0,781.9 L1044.1,785.9 L1047.3,789.1 L1050.4,793.4 L1053.5,796.9 L1056.7,800.0 L1059.8,804.0 L1062.9,806.9 L1066.1,810.7 L1069.2,814.3 L1072.3,816.7 L1075.5,820.5 L1078.6,823.2 L1081.8,825.9 L1084.9,829.7 L1088.0,832.4 L1091.2,835.8 L1094.3,839.1 L1097.4,841.0 L1100.6,844.6 L1103.7,847.1 L1106.8,849.3 L1110.0,852.4 L1113.1,854.1 L1116.2,857.1 L1119.6,860.1 L1122.9,861.7 L1126.3,864.6 L1135.1,869.7 L1143.8,874.7" stroke="#ff3c3c"/>
</g>
<text x="304.8" y="1267.4" font-size="61.5" text-anchor="middle">10<tspan font-size="43.2" dy="-25.6">-</tspan><tspan font-size="43.2" dx="-2.3">4</tspan></text>
<text x="559.8" y="1267.4" font-size="61.5" text-anchor="middle">10<tspan font-size="43.2" dy="-25.6">-</tspan><tspan font-size="43.2" dx="-2.3">2</tspan></text>
<text x="815.7" y="1267.4" font-size="61.5" text-anchor="middle">10<tspan font-size="43.2" dy="-25.6">0</tspan></text>
<text x="1070.7" y="1267.4" font-size="61.5" text-anchor="middle">10<tspan font-size="43.2" dy="-25.6">2</tspan></text>
<text x="1325.7" y="1267.4" font-size="61.5" text-anchor="middle">10<tspan font-size="43.2" dy="-25.6">4</tspan></text>
<text x="1580.8" y="1267.4" font-size="61.5" text-anchor="middle">10<tspan font-size="43.2" dy="-25.6">6</tspan></text>
<text x="272.5" y="91.1" font-size="61.5" text-anchor="end">10<tspan font-size="43.2" dy="-25.6">2</tspan></text>
<text x="272.5" y="313.0" font-size="61.5" text-anchor="end">10<tspan font-size="43.2" dy="-25.6">0</tspan></text>
<text x="272.5" y="535.0" font-size="61.5" text-anchor="end">10<tspan font-size="43.2" dy="-25.6">-</tspan><tspan font-size="43.2" dx="-2.3">2</tspan></text>
<text x="272.5" y="756.9" font-size="61.5" text-anchor="end">10<tspan font-size="43.2" dy="-25.6">-</tspan><tspan font-size="43.2" dx="-2.3">4</tspan></text>
<text x="272.5" y="978.9" font-size="61.5" text-anchor="end">10<tspan font-size="43.2" dy="-25.6">-</tspan><tspan font-size="43.2" dx="-2.3">6</tspan></text>
<text x="272.5" y="1200.8" font-size="61.5" text-anchor="end">10<tspan font-size="43.2" dy="-25.6">-</tspan><tspan font-size="43.2" dx="-2.3">8</tspan></text>
<text x="471.2" y="1098.6" font-size="61.5" text-anchor="middle">10<tspan font-size="43.2" dy="-25.6">-</tspan><tspan font-size="43.2" dx="-2.3">3</tspan></text>
<text x="739.2" y="1098.6" font-size="61.5" text-anchor="middle">10<tspan font-size="43.2" dy="-25.6">-</tspan><tspan font-size="43.2" dx="-2.3">2</tspan></text>
<text x="1007.2" y="1098.6" font-size="61.5" text-anchor="middle">10<tspan font-size="43.2" dy="-25.6">-</tspan><tspan font-size="43.2" dx="-2.3">1</tspan></text>
<text x="458.5" y="791.1" font-size="61.5" text-anchor="end">10<tspan font-size="43.2" dy="-25.6">1</tspan></text>
<text x="458.2" y="967.6" font-size="61.5" text-anchor="end">10<tspan font-size="43.2" dy="-25.6">0</tspan></text>
<text x="1016.4" y="1359" font-size="62" letter-spacing="0.44" text-anchor="middle">Energy (eV)</text>
<text transform="translate(71.6,622.3) rotate(-90)" font-size="61.5" text-anchor="middle">Flux</text>
<text transform="translate(146,622.8) rotate(-90)" font-size="61.5" letter-spacing="0.8" text-anchor="middle">(n·cm/eV·src)</text>
<g fill="none" stroke-width="9.3" stroke-linecap="round">
<line x1="942.5" y1="141.5" x2="1068.7" y2="141.5" stroke="#525252"/>
<line x1="952.5" y1="222.3" x2="1078.5" y2="222.3" stroke="#ff3c3c"/>
</g>
<text x="1079.2" y="164.5" font-size="64.5" textLength="589" lengthAdjust="spacingAndGlyphs">five-ring fuel assembly</text>
<text x="1078.6" y="245.2" font-size="64.5" textLength="578.5" lengthAdjust="spacingAndGlyphs">four-ring fuel assembly</text>
</svg>
</body></html>
